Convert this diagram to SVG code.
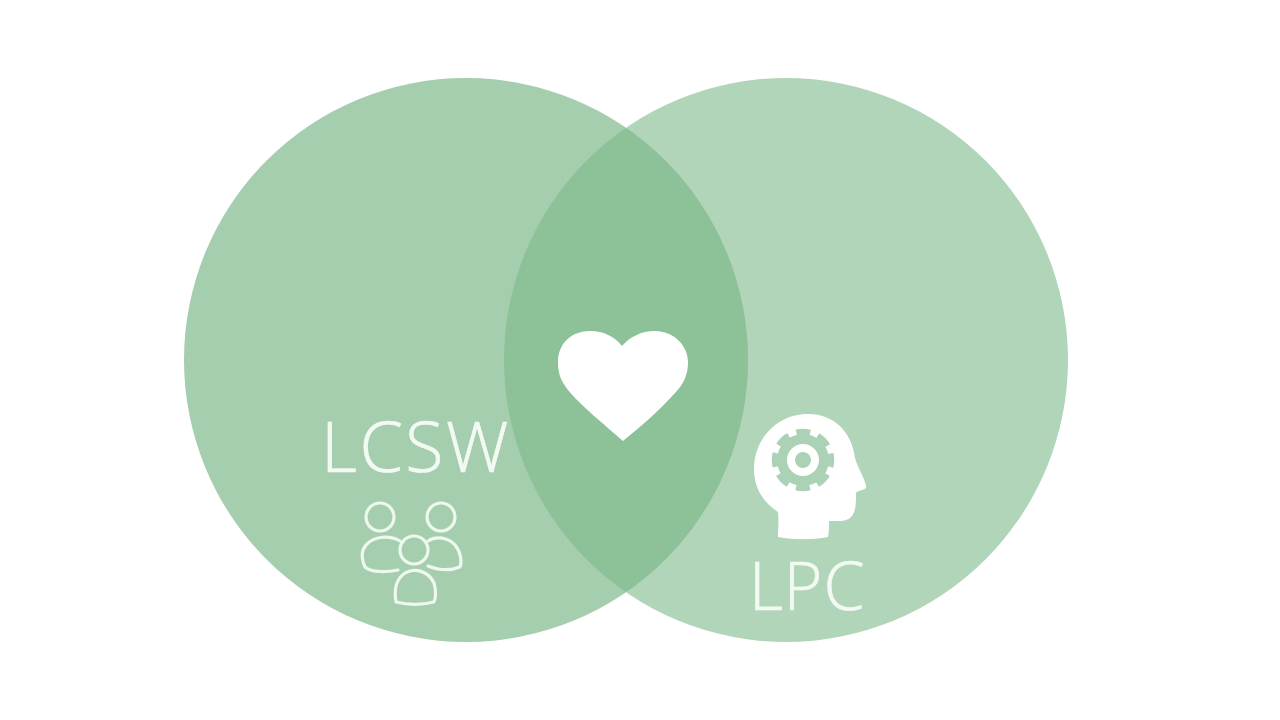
<svg xmlns="http://www.w3.org/2000/svg" width="1280" height="720" viewBox="0 0 1280 720">
<style>
.lbl{font-family:"Open Sans","Liberation Sans",sans-serif;font-weight:300;fill:#f3faf3;stroke:#f3faf3;stroke-width:.7}
.o{fill:none;stroke:#eef8ee;stroke-width:3.200;stroke-linejoin:round;stroke-linecap:round}
</style>
<defs><clipPath id="cl"><circle cx="466" cy="360" r="282"/></clipPath></defs>
<rect width="1280" height="720" fill="#ffffff"/>
<g id="circle-lpc"><circle cx="786" cy="360" r="282" fill="#b1d5b8"/></g>
<g id="circle-lcsw"><circle cx="466" cy="360" r="282" fill="#a5ceae"/></g>
<g id="overlap"><circle cx="786" cy="360" r="282" fill="#8dc299" clip-path="url(#cl)"/></g>
<g id="heart"><path d="M623 441C605 425 580 405 568 390C560 380 558 372 558 362C558 343 572 331 590 331C604 331 615 337 622 346C630 337 641 331 655 331C673 331 688 345 688 362C688 374 684 384 675 393C660 410 640 427 623 441Z" fill="#ffffff"/></g>
<g id="lcsw">
<text class="lbl" x="321" y="472" font-size="70" letter-spacing="2.500">LCSW</text>
<g class="people">
<circle class="o" cx="380" cy="517" r="14"/>
<circle class="o" cx="441" cy="517" r="14"/>
<circle class="o" cx="414" cy="550" r="14"/>
<path class="o" d="M398 570C388 572 372 573 365 567C361 558 361 550 367 544C375 536 390 535 400 541"/>
<path class="o" d="M428 541C436 536 448 537 455 545C461 552 462 562 460 567C450 571 438 570 428 566"/>
<path class="o" d="M396 602C394 590 396 579 405 573C416 567 429 572 434 583C436 590 436 597 434 602C422 605 408 605 396 602Z"/>
</g>
</g>
<g id="lpc">
<path d="M778 537C778 530 779 520 778 512C763 502 754 488 754 469C754 438 778 414 808 414C834 414 852 432 855 458C858 469 867 482 866 488C862 491 858 490 856 493C856 503 856 512 851 517C846 522 838 521 829 521C829 526 829 532 828 537C812 540 794 540 778 537Z" fill="#ffffff"/>
<circle cx="803" cy="460" r="26" fill="#abd2b4"/>
<circle cx="803" cy="460" r="27.500" fill="none" stroke="#abd2b4" stroke-width="7.500" stroke-dasharray="13.600 8" stroke-dashoffset="6.800"/>
<circle cx="803" cy="460" r="12" fill="#abd2b4" stroke="#ffffff" stroke-width="8"/>
<text class="lbl" x="749" y="610" font-size="66" letter-spacing="1">LPC</text>
</g>
</svg>
